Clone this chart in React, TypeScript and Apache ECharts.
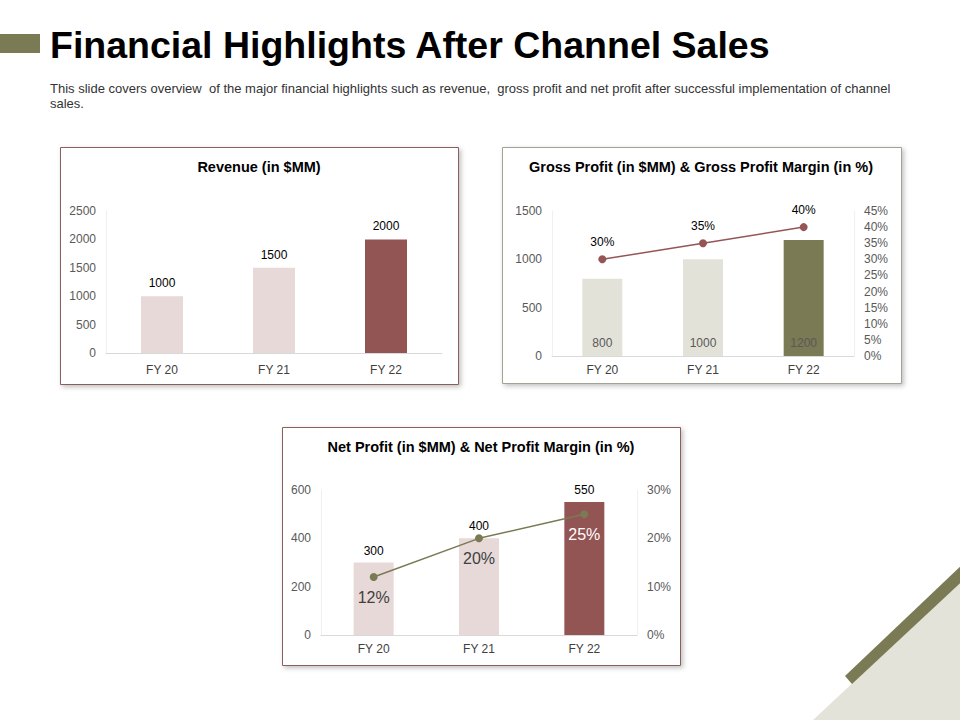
import React, { useEffect, useRef } from "react";
import * as echarts from "echarts";

const categories = ["FY 20", "FY 21", "FY 22"];
const revenue = [1000, 1500, 2000];
const grossProfit = [800, 1000, 1200];
const grossMargin = [30, 35, 40];
const netProfit = [300, 400, 550];
const netMargin = [12, 20, 25];

const revenueAxis = { min: 0, max: 2500, interval: 500 };
const grossAxis = { min: 0, max: 1500, interval: 500 };
const grossPctAxis = { min: 0, max: 45, interval: 5 };
const netAxis = { min: 0, max: 600, interval: 200 };
const netPctAxis = { min: 0, max: 30, interval: 10 };

const revenueColors = ["#e7d9d7", "#e7d9d7", "#935454"];
const grossColors = ["#e3e2d9", "#e3e2d9", "#7a7a54"];
const netColors = ["#e7d9d7", "#e7d9d7", "#935454"];
const netLabelColors = ["#404040", "#404040", "#ffffff"];

const FONT = "'Liberation Sans', Arial, sans-serif";

export default function App() {
  const ref = useRef<HTMLDivElement>(null);
  useEffect(() => {
    if (!ref.current) return;
    const chart = echarts.init(ref.current, undefined, { renderer: "svg" });

    const valAxisBase = (gridIndex: number, ax: any, margin: number, pos: string, suffix: string) => ({
      type: "value",
      gridIndex,
      position: pos,
      min: ax.min,
      max: ax.max,
      interval: ax.interval,
      splitLine: { show: false },
      axisTick: { show: false },
      axisLine: { show: true, lineStyle: { color: "#f0f0f0", width: 1 } },
      axisLabel: {
        margin,
        color: "#595959",
        fontSize: 12,
        fontFamily: FONT,
        formatter: (v: number) => String(v) + suffix,
      },
    });
    const catAxis = (gridIndex: number, margin: number) => ({
      type: "category",
      gridIndex,
      data: categories,
      axisTick: { show: false },
      axisLine: { show: true, lineStyle: { color: "#d9d9d9", width: 1 } },
      axisLabel: { margin, color: "#404040", fontSize: 12, fontFamily: FONT },
    });

    const boxShadow = {
      shadowBlur: 5,
      shadowColor: "rgba(0,0,0,0.25)",
      shadowOffsetX: 2,
      shadowOffsetY: 2,
    };

    const option: any = {
      animation: false,
      backgroundColor: "#ffffff",
      textStyle: { fontFamily: FONT },
      grid: [
        { left: 106, top: 211, width: 336, height: 142 },
        { left: 552, top: 211, width: 302, height: 145 },
        { left: 321, top: 490, width: 316, height: 145 },
      ],
      xAxis: [catAxis(0, 11), catAxis(1, 8), catAxis(2, 8)],
      yAxis: [
        valAxisBase(0, revenueAxis, 10, "left", ""),
        valAxisBase(1, grossAxis, 10, "left", ""),
        valAxisBase(1, grossPctAxis, 10, "right", "%"),
        valAxisBase(2, netAxis, 10, "left", ""),
        valAxisBase(2, netPctAxis, 10, "right", "%"),
      ],
      series: [
        {
          type: "bar",
          xAxisIndex: 0,
          yAxisIndex: 0,
          barWidth: 42,
          data: revenue.map((v, i) => ({ value: v, itemStyle: { color: revenueColors[i] } })),
          label: {
            show: true,
            position: "top",
            distance: 7,
            color: "#000000",
            fontSize: 12,
            fontFamily: FONT,
          },
        },
        {
          type: "bar",
          xAxisIndex: 1,
          yAxisIndex: 1,
          barWidth: 40,
          data: grossProfit.map((v, i) => ({ value: v, itemStyle: { color: grossColors[i] } })),
          label: {
            show: true,
            position: "insideBottom",
            distance: 7,
            color: "#595959",
            fontSize: 12,
            fontFamily: FONT,
          },
        },
        {
          type: "line",
          xAxisIndex: 1,
          yAxisIndex: 2,
          data: grossMargin,
          symbol: "circle",
          symbolSize: 8,
          lineStyle: { color: "#955555", width: 1.5 },
          itemStyle: { color: "#955555" },
          label: {
            show: true,
            position: "top",
            distance: 7,
            color: "#000000",
            fontSize: 12,
            fontFamily: FONT,
            formatter: (p: any) => p.value + "%",
          },
        },
        {
          type: "bar",
          xAxisIndex: 2,
          yAxisIndex: 3,
          barWidth: 40,
          data: netProfit.map((v, i) => ({ value: v, itemStyle: { color: netColors[i] } })),
          label: {
            show: true,
            position: "top",
            distance: 6,
            color: "#000000",
            fontSize: 12,
            fontFamily: FONT,
          },
        },
        {
          type: "line",
          xAxisIndex: 2,
          yAxisIndex: 4,
          data: netMargin.map((v, i) => ({
            value: v,
            label: { color: netLabelColors[i] },
          })),
          symbol: "circle",
          symbolSize: 8,
          lineStyle: { color: "#7a7a54", width: 1.5 },
          itemStyle: { color: "#7a7a54" },
          label: {
            show: true,
            position: "bottom",
            distance: 8,
            fontSize: 16,
            fontFamily: FONT,
            formatter: (p: any) => p.value + "%",
          },
        },
      ],
      graphic: [
        {
          type: "rect",
          shape: { x: 0, y: 34, width: 40, height: 19 },
          style: { fill: "#7a7a54" },
        },
        {
          type: "text",
          x: 50,
          y: 45,
          style: {
            text: "Financial Highlights After Channel Sales",
            font: `bold 37.5px ${FONT}`,
            fill: "#000000",
            verticalAlign: "middle",
          },
        },
        {
          type: "text",
          x: 50,
          y: 88,
          style: {
            text:
              "This slide covers overview  of the major financial highlights such as revenue,  gross profit and net profit after successful implementation of channel",
            font: `13px ${FONT}`,
            fill: "#333333",
            verticalAlign: "middle",
          },
        },
        {
          type: "text",
          x: 50,
          y: 103,
          style: {
            text: "sales.",
            font: `13px ${FONT}`,
            fill: "#333333",
            verticalAlign: "middle",
          },
        },
        {
          type: "rect",
          z: -1,
          shape: { x: 60.5, y: 147.5, width: 398, height: 237 },
          style: { fill: "#ffffff", stroke: "#8a5e5c", lineWidth: 1, ...boxShadow },
        },
        {
          type: "rect",
          z: -1,
          shape: { x: 502.5, y: 147.5, width: 399, height: 236 },
          style: { fill: "#ffffff", stroke: "#a3a394", lineWidth: 1, ...boxShadow },
        },
        {
          type: "rect",
          z: -1,
          shape: { x: 282.5, y: 427.5, width: 398, height: 238 },
          style: { fill: "#ffffff", stroke: "#8a5e5c", lineWidth: 1, ...boxShadow },
        },
        {
          type: "text",
          x: 259,
          y: 167,
          style: {
            text: "Revenue (in $MM)",
            font: `bold 14.5px ${FONT}`,
            fill: "#000000",
            align: "center",
            verticalAlign: "middle",
          },
        },
        {
          type: "text",
          x: 701,
          y: 167,
          style: {
            text: "Gross Profit (in $MM) & Gross Profit Margin (in %)",
            font: `bold 14.5px ${FONT}`,
            fill: "#000000",
            align: "center",
            verticalAlign: "middle",
          },
        },
        {
          type: "text",
          x: 481,
          y: 447,
          style: {
            text: "Net Profit (in $MM) & Net Profit Margin (in %)",
            font: `bold 14.5px ${FONT}`,
            fill: "#000000",
            align: "center",
            verticalAlign: "middle",
          },
        },
        {
          type: "polygon",
          shape: {
            points: [
              [813, 720],
              [962, 581],
              [962, 722],
            ],
          },
          style: { fill: "#e4e3da" },
        },
        {
          type: "polygon",
          shape: {
            points: [
              [852, 684],
              [972, 572],
              [964, 563],
              [845, 676],
            ],
          },
          style: { fill: "#7a7a54" },
        },
      ],
    };
    chart.setOption(option);
    return () => chart.dispose();
  }, []);
  return (
    <div
      ref={ref}
      style={{ position: "absolute", left: 0, top: 0, width: 960, height: 720 }}
    />
  );
}
